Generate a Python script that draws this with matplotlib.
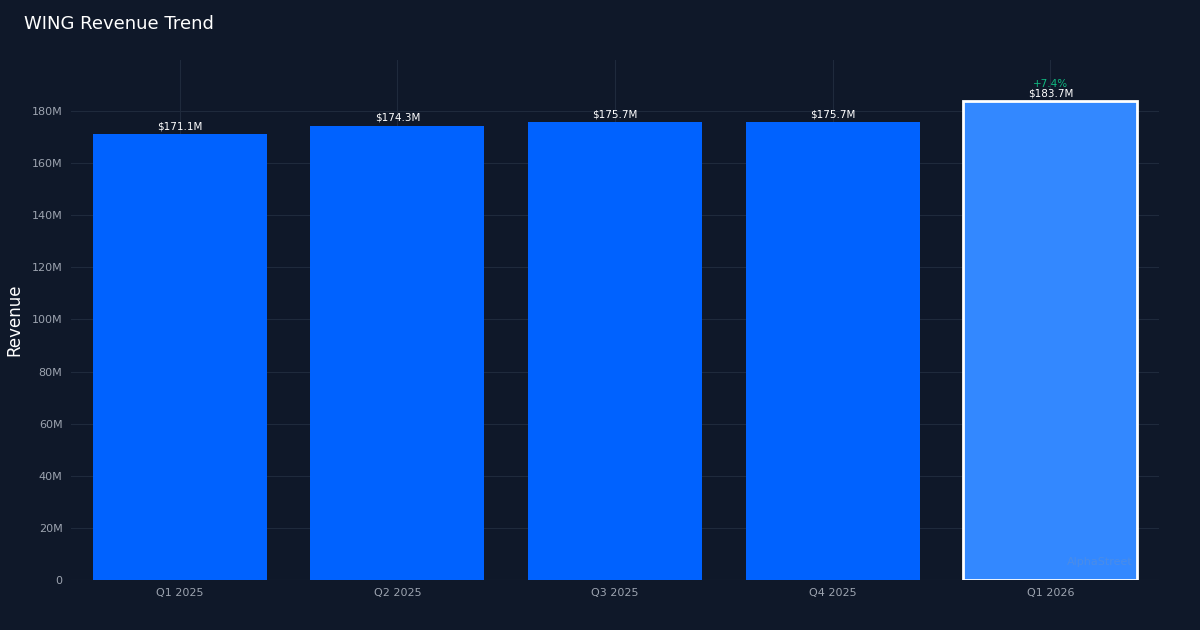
import matplotlib.pyplot as plt
from matplotlib.ticker import FuncFormatter

quarters = ["Q1 2025", "Q2 2025", "Q3 2025", "Q4 2025", "Q1 2026"]
revenue_m = [171.1, 174.3, 175.7, 175.7, 183.7]
labels = ["$171.1M", "$174.3M", "$175.7M", "$175.7M", "$183.7M"]
growth_label = "+7.4%"

bg = "#0f1829"
fig = plt.figure(figsize=(12, 6.3), dpi=100, facecolor=bg)
ax = fig.add_axes([0.059, 0.0794, 0.907, 0.825], facecolor=bg)

x = range(len(quarters))
colors = ["#0062ff"] * 4 + ["#3388ff"]
bars = ax.bar(x, revenue_m, width=0.8, color=colors, zorder=2)
bars[-1].set_edgecolor("white")
bars[-1].set_linewidth(2)

for i, (v, t) in enumerate(zip(revenue_m, labels)):
    ax.text(i, v + 1.2, t, ha="center", va="bottom", color="white", fontsize=7.5, zorder=3)
ax.text(4, revenue_m[-1] + 4.6, growth_label, ha="center", va="bottom",
        color="#10b981", fontsize=7.5, zorder=3)

ax.set_xlim(-0.5, 4.5)
ax.set_ylim(0, 199.5)
ax.set_yticks(range(0, 181, 20))
ax.yaxis.set_major_formatter(FuncFormatter(lambda v, p: "0" if v == 0 else f"{int(v)}M"))
ax.set_xticks(list(x))
ax.set_xticklabels(quarters)
ax.tick_params(colors="#9ca3af", labelsize=8, length=0, pad=6)
ax.grid(color="#1f2a3c", linewidth=0.8, zorder=0)
for s in ax.spines.values():
    s.set_visible(False)
ax.axhline(0, color="#2a3446", linewidth=0.8, zorder=1)
ax.set_ylabel("Revenue", color="white", fontsize=12, labelpad=6)

fig.text(0.02, 0.962, "WING Revenue Trend", color="white", fontsize=13, va="center")
ax.text(4.38, 7, "AlphaStreet", color="#5a8fd9", alpha=0.6, fontsize=8, ha="right", va="center", zorder=3)

fig.savefig("out.png", dpi=100, facecolor=bg)
